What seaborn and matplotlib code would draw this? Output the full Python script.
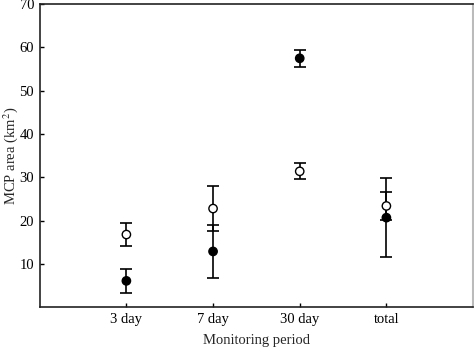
import matplotlib
matplotlib.use("Agg")
import matplotlib.pyplot as plt
import seaborn as sns
import pandas as pd
import numpy as np

categories = ["3 day", "7 day", "30 day", "total"]
filled_mean = [6.1, 12.9, 57.5, 20.7]
filled_err = [2.75, 6.05, 1.95, 9.2]
open_mean = [16.8, 22.8, 31.4, 23.4]
open_err = [2.6, 5.1, 1.85, 3.2]

sns.set_theme(style="ticks")
plt.rcParams['font.family'] = ['Liberation Serif', 'DejaVu Serif']
plt.rcParams['mathtext.fontset'] = 'stix'

fig = plt.figure(figsize=(4.74, 3.48), dpi=100)
ax = fig.add_axes([0.0838, 0.117, 0.9142, 0.871])

pos = np.arange(1, len(categories) + 1)
df = pd.concat([
    pd.DataFrame({"x": pos, "y": filled_mean, "err": filled_err, "grp": "filled"}),
    pd.DataFrame({"x": pos, "y": open_mean, "err": open_err, "grp": "open"}),
])

for grp, sub in df.groupby("grp"):
    ax.errorbar(sub["x"], sub["y"], yerr=sub["err"], fmt="none", ecolor="black",
                elinewidth=1.2, capsize=4, capthick=1.2, zorder=2)

sns.scatterplot(data=df, x="x", y="y", hue="grp",
                palette={"filled": "black", "open": "white"},
                edgecolor="black", linewidth=1.0, s=36, legend=False, ax=ax, zorder=3)

ax.set_xlim(0, 5)
ax.set_ylim(0, 70)
ax.set_xticks(pos)
ax.set_xticklabels(categories)
ax.set_yticks([10, 20, 30, 40, 50, 60, 70])
ax.tick_params(direction="in", length=3, width=1, labelsize=10.5, colors="black", pad=4)
ax.set_xlabel("Monitoring period", fontsize=10.5, labelpad=6)
ax.set_ylabel("MCP area (km$^2$)", fontsize=10.5)
ax.yaxis.set_label_coords(-0.045, 0.5)
for s in ["left", "bottom", "top"]:
    ax.spines[s].set_color("#222222")
    ax.spines[s].set_linewidth(1.2)
ax.spines["right"].set_color("#bbbbbb")
ax.spines["right"].set_linewidth(1.5)

fig.savefig("out.png", dpi=100)
